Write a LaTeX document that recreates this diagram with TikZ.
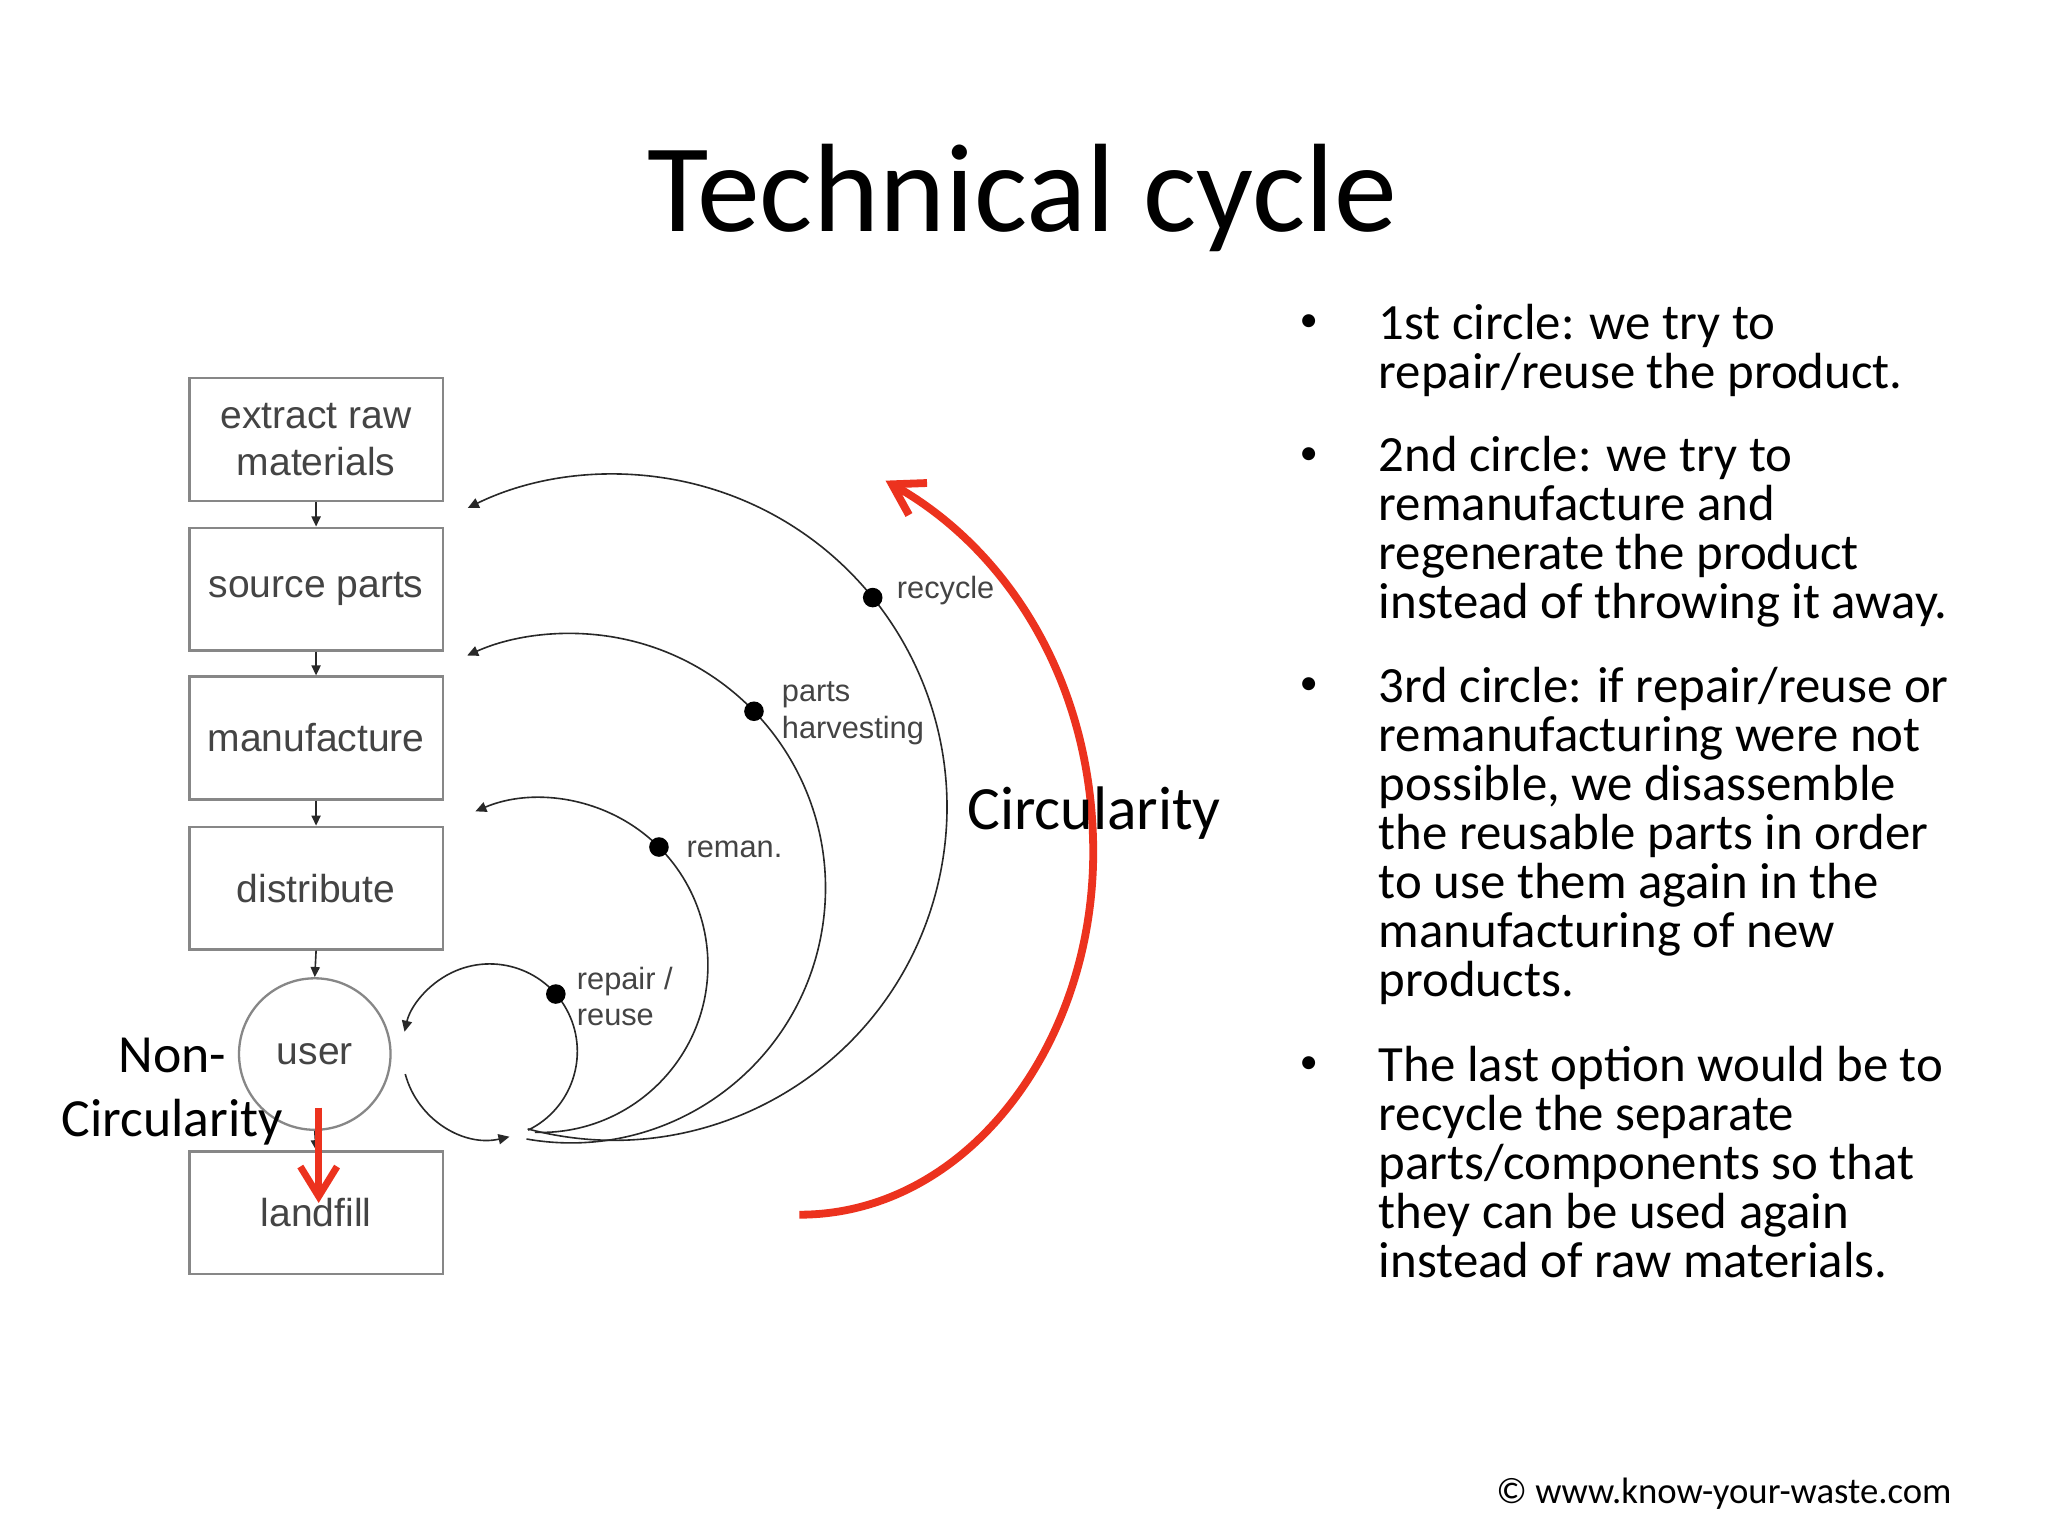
\documentclass[tikz,border=0pt]{standalone}
\usepackage{fontspec}
\setmainfont{Carlito}
\newfontfamily\diagfont{Liberation Sans}
\usetikzlibrary{arrows.meta,calc}
\definecolor{cred}{RGB}{236,50,30}
\definecolor{boxgray}{RGB}{135,135,135}
\definecolor{txtgray}{RGB}{68,68,68}
\definecolor{arcgray}{RGB}{40,40,40}
\newcommand{\tightskip}{\lineskiplimit=-20pt\relax}
\begin{document}
\begin{tikzpicture}[x=0.1mm,y=-0.1mm,
  stagebox/.style={draw=boxgray, line width=0.5pt, minimum width=19.4mm, minimum height=9.4mm, inner sep=0pt,
    font=\diagfont\fontsize{8.5}{10.24}\selectfont, text=txtgray, align=center},
  usernode/.style={circle, draw=boxgray, line width=0.5pt, minimum size=11.6mm, inner sep=0pt,
    font=\diagfont\fontsize{8.5}{10.24}\selectfont, text=txtgray},
  flow/.style={-{Triangle[length=2.2pt,width=2pt]}, line width=0.35pt, arcgray},
  loopline/.style={-{Triangle[length=2.4pt,width=2.2pt]}, line width=0.35pt, arcgray},
  hub/.style={circle, fill=black, inner sep=0pt, minimum size=1.5mm},
  tinylabel/.style={font=\diagfont\fontsize{6.7}{8}\selectfont, text=txtgray, inner sep=0pt, anchor=west, align=left},
  redshort/.style={draw=cred, line width=1.5pt, -{Straight Barb[length=6.5pt,width=8pt]}},
  redlong/.style={draw=cred, line width=1.7pt, -{Straight Barb[length=6.5pt,width=8pt]}},
  bullettext/.style={font=\fontsize{11.07}{10.67}\selectfont\tightskip, anchor=north west, align=left, inner sep=0pt},
  bulletdot/.style={font=\fontsize{8}{10}\selectfont, anchor=base, inner sep=0pt},
  bigword/.style={font=\fontsize{13.4}{16}\selectfont, inner sep=0pt},
  sideword/.style={font=\fontsize{11.7}{14}\selectfont, inner sep=0pt, anchor=base}
]
\fill[white] (0,0) rectangle (1568,1176);
\useasboundingbox (0,0) rectangle (1568,1176);

% title
\node[font=\fontsize{27.4}{32}\selectfont, anchor=base, inner sep=0pt] (title) at (782.5,177) {Technical cycle};

% stages
\node[stagebox] (b1) at (242,336.5) {extract raw\\materials};
\node[stagebox] (b2) at (242,451) {source parts};
\node[stagebox] (b3) at (242,565) {manufacture};
\node[stagebox] (b4) at (242,680) {distribute};
\node[usernode] (user) at (241,807) {user};
\node[stagebox] (b6) at (242,928.5) {landfill};

\draw[flow] (b1.south) -- (b2.north);
\draw[flow] (b2.south) -- (b3.north);
\draw[flow] (b3.south) -- (b4.north);
\draw[flow] (b4.south) -- (user.north);
\draw[flow] (user.south) -- (b6.north);

% loop centres
\coordinate (Crec) at (470,618);
\coordinate (Cpar) at (437,680);
\coordinate (Crem) at (414,739);
\coordinate (Crep) at (375,805);

% arcs
\draw[loopline] (Crep) ++(165:67) arc[start angle=165,end angle=77,radius=67];
\draw[loopline] (Crep) ++(64:67) arc[start angle=64,end angle=-167,radius=67];
\draw[loopline] (Crem) ++(92:128) arc[start angle=92,end angle=-113,radius=128];
\draw[loopline] (Cpar) ++(100:195) arc[start angle=100,end angle=-114,radius=195];
\draw[loopline] (Crec) ++(105:255) arc[start angle=105,end angle=-116,radius=255];

% hubs
\node[hub] (drep) at ($(Crep)+(-41:67)$) {};
\node[hub] (drem) at ($(Crem)+(-45:128)$) {};
\node[hub] (dpar) at ($(Cpar)+(-44:195)$) {};
\node[hub] (drec) at ($(Crec)+(-39:255)$) {};

\node[tinylabel] (lrec) at (686,452) {recycle};
\node[tinylabel] (lpar) at (598,546) {parts\\harvesting};
\node[tinylabel] (lrem) at (525,650) {reman.};
\node[tinylabel] (lrep) at (441,763) {repair /\\reuse};

% red arrows
\coordinate (rs) at (244,848);
\coordinate (re) at (244,921);
\draw[redshort] (rs) -- (re);
\coordinate (cs) at (612,930);
\coordinate (ce) at (678,368);
\draw[redlong] (cs) .. controls (740,930) and (838,800) .. (837,650) .. controls (836,520) and (770,420) .. (ce);

% words
\node[bigword, anchor=base west] (circ) at (740,635) {Circularity};
\node[sideword] (non1) at (132,821) {Non-};
\node[sideword] (non2) at (132,870) {Circularity};

% bullets
\node[bulletdot] (d1) at (1002,254) {•};
\node[bullettext] (t1) at (1055,232) {1st circle: we try to\\repair/reuse the product.};
\node[bulletdot] (d2) at (1002,356) {•};
\node[bullettext] (t2) at (1055,333) {2nd circle: we try to\\remanufacture and\\regenerate the product\\instead of throwing it away.};
\node[bulletdot] (d3) at (1002,532) {•};
\node[bullettext] (t3) at (1055,510) {3rd circle: if repair/reuse or\\remanufacturing were not\\possible, we disassemble\\the reusable parts in order\\to use them again in the\\manufacturing of new\\products.};
\node[bulletdot] (d4) at (1002,822) {•};
\node[bullettext] (t4) at (1055,800) {The last option would be to\\recycle the separate\\parts/components so that\\they can be used again\\instead of raw materials.};

% footer
\node[font=\fontsize{8}{10}\selectfont, anchor=base west, inner sep=0pt] (foot) at (1145,1151) {© www.know-your-waste.com};
\end{tikzpicture}
\end{document}
